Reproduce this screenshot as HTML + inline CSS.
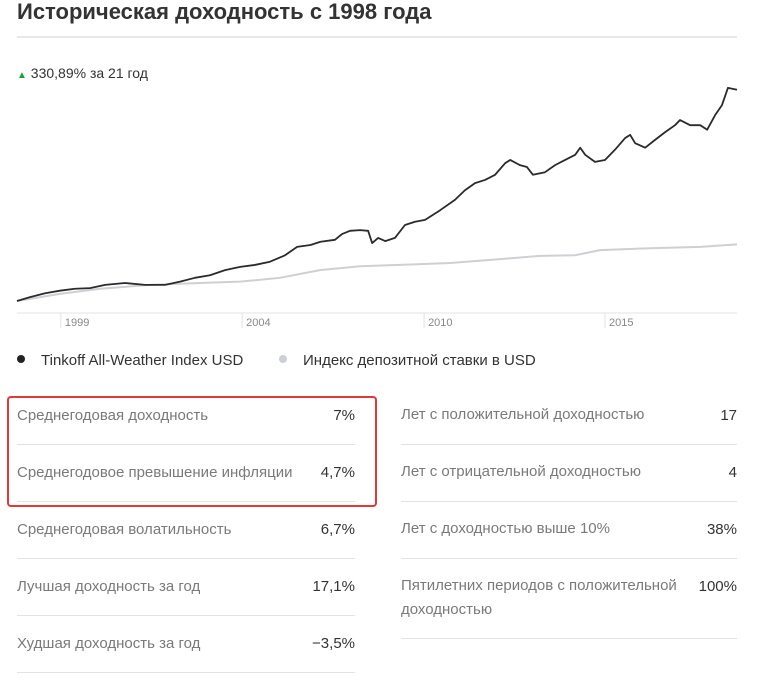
<!DOCTYPE html>
<html><head><meta charset="utf-8"><style>
body{margin:0;width:779px;height:683px;background:#fff;font-family:"Liberation Sans",sans-serif;position:relative;overflow:hidden}
.a{position:absolute;white-space:nowrap}
.hr{position:absolute;height:1px;background:#e3e3e3}
</style></head><body>
<div class="a" style="left:17px;top:-1px;font-size:22px;font-weight:bold;color:#333">Историческая доходность с 1998 года</div>
<div class="hr" style="left:17px;top:36px;width:720px;height:2px;background:#e8e8e8"></div>
<div class="a" style="left:17px;top:65px;font-size:14px;color:#333"><span style="color:#1aa33c;font-size:10px">▲</span> 330,89% за 21 год</div>
<svg id="chart" width="779" height="340" style="position:absolute;left:0;top:0"></svg>
<div class="a" style="left:17px;top:352px;font-size:15px;color:#333"><span style="display:inline-block;width:8px;height:8px;border-radius:50%;background:#222;margin-right:16px;vertical-align:2px"></span>Tinkoff All-Weather Index USD</div>
<div class="a" style="left:279px;top:352px;font-size:15px;color:#333"><span style="display:inline-block;width:8px;height:8px;border-radius:50%;background:#ccd0d4;margin-right:16px;vertical-align:2px"></span>Индекс депозитной ставки в USD</div>
<div id="tbl"></div>
<div style="position:absolute;left:7px;top:396px;width:366px;height:107px;border:2px solid #e53935;border-radius:4px"></div>
<script>
const years=[0,.39,.84,1.28,1.73,2.18,2.63,3.22,3.82,4.42,4.87,5.31,5.76,6.21,6.66,7.10,7.55,8.00,8.36,8.76,9.06,9.49,9.70,9.94,10.24,10.48,10.60,10.78,10.99,11.28,11.58,11.88,12.18,12.63,13.07,13.37,13.67,13.97,14.27,14.57,14.72,15.01,15.22,15.40,15.76,16.06,16.36,16.66,16.81,16.96,17.25,17.55,17.85,18.15,18.30,18.45,18.75,19.04,19.34,19.64,19.79,20.09,20.39,20.60,20.84,21.04,21.22,21.49];
const indexValues=[0,6,12,16,19,20,25,28,25,25,30,36,40,48,53,56,61,71,84,87,92,95,104,109,110,109,90,98,93,98,118,123,126,141,157,172,183,188,196,214,219,211,208,196,200,211,219,227,238,227,216,219,235,253,258,245,238,250,262,273,281,273,273,266,289,304,331,328];
const depYears=[0,1.28,2.48,3.97,5.46,6.66,7.85,9.04,10.24,11.43,12.93,14.42,15.61,16.66,17.40,18.90,20.39,21.49];
const depValues=[0,11,19,25,28,30,36,48,54,56,59,65,70,71,79,82,84,88];
const tickYears=[1.31,6.72,12.15,17.55];
const tickLabels=["1999","2004","2010","2015"];
const X0=17,X1=737,Y0=301,PX=0.644,SPAN=21.49;
const xs=t=>X0+(t/SPAN)*(X1-X0), ys=v=>Y0-v*PX;
const svg=document.getElementById('chart'),NS='http://www.w3.org/2000/svg';
function mk(tag,attrs,name){const e=document.createElementNS(NS,tag);for(const k in attrs)e.setAttribute(k,attrs[k]);


svg.appendChild(e);return e;}
mk('line',{x1:X0,x2:X1,y1:313,y2:313,stroke:'#e3e3e3','stroke-width':1},'x-axis');
tickYears.forEach((t,i)=>{const x=xs(t);
mk('line',{x1:x,x2:x,y1:313,y2:328,stroke:'#e3e3e3'},'x-tick');
const tx=mk('text',{x:x+4,y:326,'font-size':11,fill:'#888','font-family':'Liberation Sans'},'x-tick-label');tx.textContent=tickLabels[i];});
mk('polyline',{points:depYears.map((t,i)=>xs(t)+','+ys(depValues[i])).join(' '),fill:'none',stroke:'#cdd0d4','stroke-width':2},'deposit-line');
mk('polyline',{points:years.map((t,i)=>xs(t)+','+ys(indexValues[i])).join(' '),fill:'none',stroke:'#2b2b2b','stroke-width':1.8,'stroke-linejoin':'round'},'index-line');
const leftLabels=["Среднегодовая доходность","Среднегодовое превышение инфляции","Среднегодовая волатильность","Лучшая доходность за год","Худшая доходность за год"];
const leftVals=["7%","4,7%","6,7%","17,1%","−3,5%"];
const rightLabels=["Лет с положительной доходностью","Лет с отрицательной доходностью","Лет с доходностью выше 10%","Пятилетних периодов с положительной<br>доходностью"];
const rightVals=["17","4","38%","100%"];
const tbl=document.getElementById('tbl');
function add(html,style,name){const d=document.createElement('div');d.className='a';d.style.cssText=style;d.innerHTML=html;


tbl.appendChild(d);}
leftLabels.forEach((l,i)=>{const y=407+i*57;
add(l,'left:17px;top:'+y+'px;color:#7a7a7a;font-size:15px','stat-label');
add(leftVals[i],'left:255px;width:100px;top:'+y+'px;color:#333;font-size:15px;text-align:right','stat-value');
const h=document.createElement('div');h.className='hr';h.style.cssText='left:17px;width:338px;top:'+(444+i*57)+'px';


tbl.appendChild(h);});
const rDiv=[444,501,558,638];
rightLabels.forEach((l,i)=>{const y=407+i*57;
add(l,'left:401px;top:'+y+'px;color:#7a7a7a;font-size:15px;line-height:24px;margin-top:-4px','stat-label');
add(rightVals[i],'left:637px;width:100px;top:'+y+'px;color:#333;font-size:15px;text-align:right','stat-value');
const h=document.createElement('div');h.className='hr';h.style.cssText='left:401px;width:336px;top:'+rDiv[i]+'px';


tbl.appendChild(h);});
</script>
</body></html>
